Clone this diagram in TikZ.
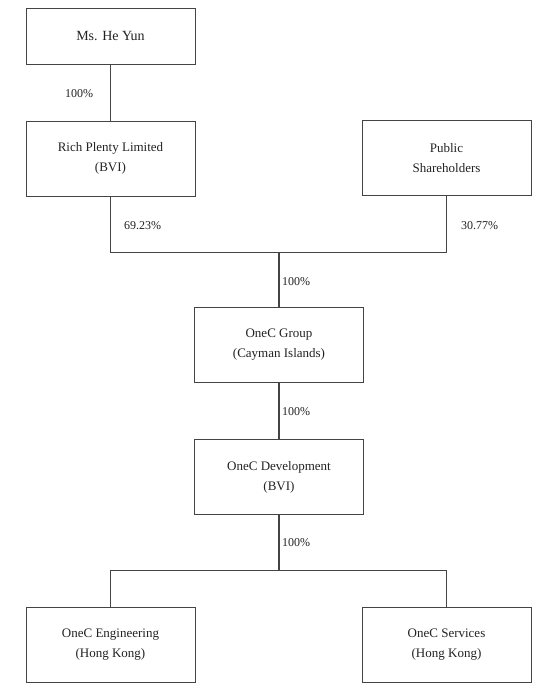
\documentclass[tikz,border=0pt]{standalone}
\usepackage{fontspec}
\setmainfont{Liberation Serif}
\usepackage{xcolor}
\usetikzlibrary{positioning}

\definecolor{linegray}{HTML}{444444}
\definecolor{textgray}{HTML}{222222}

\begin{document}
\begin{tikzpicture}[
    x=1pt, y=-1pt,
    node distance=57pt,
    box/.style={rectangle, draw=linegray, line width=0.9pt, minimum width=169pt, minimum height=75pt, align=center, inner sep=0pt, outer sep=0pt, text=textgray, font=\fontsize{13}{20}\selectfont},
    link/.style={draw=linegray, line width=0.9pt},
    mainlink/.style={draw=linegray, line width=2.4pt},
    pct/.style={font=\fontsize{12}{14}\selectfont, text=textgray, inner sep=0pt, anchor=west}
]
\useasboundingbox (0,0) rectangle (555,686);

\node[box, minimum height=56pt, font=\fontsize{14}{20}\selectfont] (heyun) at (110.5,36) {Ms. He Yun};
\node[box, below=of heyun] (rich) {Rich Plenty Limited\\(BVI)};
\node[box] (public) at (446.5,158) {Public\\Shareholders};
\node[box] (group) at (279,345) {OneC Group\\(Cayman Islands)};
\node[box, below=of group] (dev) {OneC Development\\(BVI)};
\node[box] (eng) at (110.5,644.5) {OneC Engineering\\(Hong Kong)};
\node[box] (serv) at (446.5,644.5) {OneC Services\\(Hong Kong)};

% junction points
\coordinate (topjoin) at (279,252);
\coordinate (botjoin) at (279,570);

\draw[link] (heyun) -- (rich);
\draw[link] (rich.south) |- (topjoin);
\draw[link] (public.south) |- (topjoin);
\draw[mainlink] (topjoin) -- (group);
\draw[mainlink] (group) -- (dev);
\draw[mainlink] (dev) -- (botjoin);
\draw[link] (botjoin) -| (eng.north);
\draw[link] (botjoin) -| (serv.north);

% percentages
\node[pct] (p1) at (65,94) {100\%};
\node[pct] (p2) at (124,226) {69.23\%};
\node[pct] (p3) at (461,226) {30.77\%};
\node[pct] (p4) at (282,282) {100\%};
\node[pct] (p5) at (282,412) {100\%};
\node[pct] (p6) at (282,543) {100\%};
\end{tikzpicture}
\end{document}
